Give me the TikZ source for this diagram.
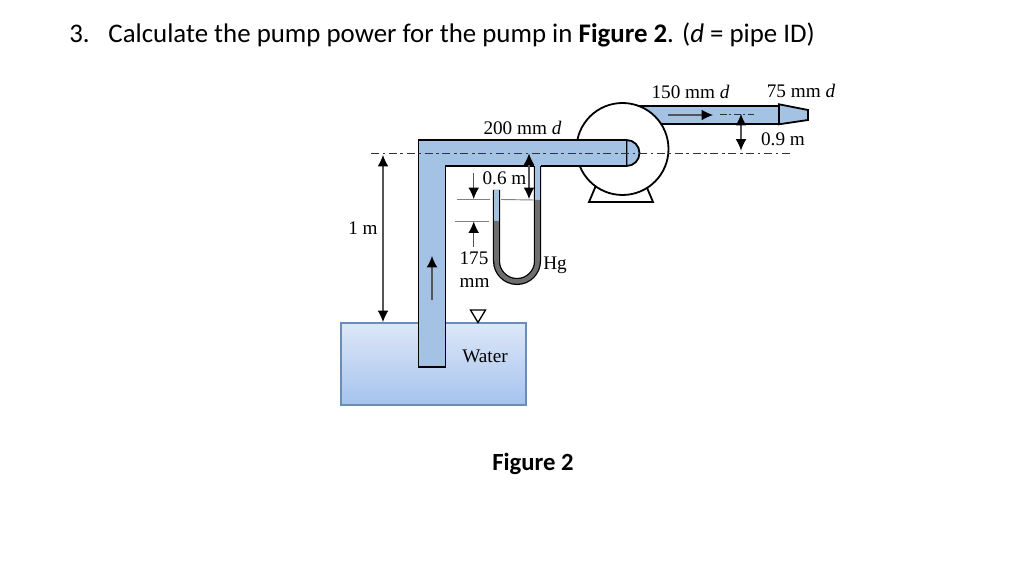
\documentclass[tikz,border=0pt]{standalone}
\usepackage{fontspec}
\setmainfont{Liberation Serif}
\newfontfamily\carl{Carlito}
\usetikzlibrary{arrows.meta}
\definecolor{pipeblue}{HTML}{A4C2E4}
\definecolor{tanktop}{HTML}{DDE7F8}
\definecolor{tankbot}{HTML}{A5C3ED}
\definecolor{tankedge}{HTML}{6A8DB8}
\definecolor{hgray}{HTML}{6E6E6E}
\definecolor{dimgray}{HTML}{555555}
\tikzset{
  pipe/.style={draw=black,line width=1.35pt,fill=pipeblue,line join=miter},
  pipeedge/.style={draw=black,line width=1.35pt,line join=miter},
  outline/.style={draw=black,line width=1.35pt,fill=white},
  dimline/.style={draw=dimgray,line width=0.8pt,{Latex[black,length=8.5pt,width=8pt]}-{Latex[black,length=8.5pt,width=8pt]}},
  onearrow/.style={draw=dimgray,line width=0.8pt,-{Latex[black,length=8.5pt,width=8pt]}},
  extline/.style={draw=gray,line width=0.7pt},
  centre/.style={draw=black!80,line width=1.2pt,dash pattern=on 6pt off 2.7pt on 2pt off 2.7pt},
  lab/.style={inner sep=0pt,font=\fontsize{14.4}{16}\selectfont},
  sans/.style={inner sep=0pt,font=\carl\fontsize{20.15}{22}\selectfont}
}
\begin{document}
\begin{tikzpicture}[x=0.75pt,y=-0.75pt]
\useasboundingbox[fill=white] (0,0) rectangle (1024,584);
% tank
\draw[draw=tankedge,line width=1.3pt,top color=tanktop,bottom color=tankbot] (341,323) rectangle (526,405);
% discharge pipe and nozzle
\draw[pipe] (630,106) -- (779,106) -- (779,124) -- (650,124) -- cycle;
\draw[pipe] (779,104.3) -- (808,110) -- (808,120) -- (779,124.3) -- cycle;
% pump
\draw[outline] (589,202) -- (653,202) -- (645,183) -- (597,183) -- cycle;
\draw[outline] (622.5,149) circle[radius=34.5pt];
% U tube
\draw[draw=black,line width=5.3pt] (496.5,190) -- (496.5,261) .. controls (496.5,272.3) and (505.7,281.5) .. (517,281.5) .. controls (528.3,281.5) and (537.5,272.3) .. (537.5,261) -- (537.5,160);
\draw[draw=pipeblue,line width=3.4pt] (496.5,190) -- (496.5,221);
\draw[draw=pipeblue,line width=3.4pt] (537.5,200) -- (537.5,160);
\draw[draw=hgray,line width=3.4pt] (496.5,221) -- (496.5,261) .. controls (496.5,272.3) and (505.7,281.5) .. (517,281.5) .. controls (528.3,281.5) and (537.5,272.3) .. (537.5,261) -- (537.5,200);
% suction pipe
\draw[pipe] (626.5,140) .. controls (633.7,140) and (639.5,145.8) .. (639.5,153) .. controls (639.5,160.2) and (633.7,166) .. (626.5,166) -- cycle;
\fill[pipeblue] (418.5,367) -- (418.5,140) -- (626.5,140) -- (626.5,166) -- (445.5,166) -- (445.5,367) -- cycle;
\draw[pipeedge] (418.5,367.6) -- (418.5,140) -- (626.5,140) -- (626.5,166) -- (541,166);
\draw[pipeedge] (534,166) -- (445.5,166) -- (445.5,367) -- (417.6,367);
\fill[pipeblue] (534.6,160) rectangle (540.4,168);
% centre lines
\draw[centre] (371,153.5) -- (793,153.5);
\draw[centre,line width=0.7pt,dash pattern=on 5pt off 2pt on 1.5pt off 2pt] (720,114.5) -- (754,114.5);
% named reference points
\coordinate (oneTop) at (383,155);
\coordinate (oneBot) at (383,322);
\coordinate (sixTop) at (529,153.5);
\coordinate (sixBot) at (529,199);
\coordinate (nineTop) at (741,114);
\coordinate (nineBot) at (741,150.5);
\coordinate (flowA) at (668,115);
\coordinate (flowB) at (713,115);
\coordinate (upA) at (432,300);
\coordinate (upB) at (432,256);
\coordinate (hTopA) at (473.7,173);
\coordinate (hTopB) at (473.7,199);
\coordinate (hBotA) at (473.7,247);
\coordinate (hBotB) at (473.7,221.5);
% dimensions
\draw[dimline] (oneTop) -- (oneBot);
\draw[dimline] (sixTop) -- (sixBot);
\draw[dimline] (nineTop) -- (nineBot);
\draw[onearrow] (flowA) -- (flowB);
\draw[onearrow] (upA) -- (upB);
\draw[onearrow] (hTopA) -- (hTopB);
\draw[onearrow] (hBotA) -- (hBotB);
\draw[extline] (457,199) -- (490,199);
\draw[extline] (501,199.5) -- (534,200);
\draw[extline] (455,221) -- (489,221);
% free surface mark
\draw[draw=black,line width=1pt,fill=white] (470.5,310) -- (485.5,310) -- (478,322.5) -- cycle;
% labels
\node[sans,anchor=west] (title) at (69,35) {3.\hspace{0.7em}Calculate the pump power for the pump in \textbf{Figure 2}. (\textit{d} = pipe ID)};
\node[sans,font=\carl\bfseries\fontsize{18.5}{22}\selectfont] (figlabel) at (533,464) {Figure 2};
\node[lab] (l200) at (522.5,128) {200 mm \textit{d}};
\node[lab] (l150) at (690.5,92) {150 mm \textit{d}};
\node[lab] (l75) at (801,91) {75 mm \textit{d}};
\node[lab] (l09) at (783,139.5) {0.9 m};
\node[lab] (l06) at (504.5,178) {0.6 m};
\node[lab] (l1) at (363,228) {1 m};
\node[lab] (l175) at (474,258.5) {175};
\node[lab] (lmm) at (474.5,283) {mm};
\node[lab] (lhg) at (555,265) {Hg};
\node[lab] (lwater) at (485,356) {Water};
\end{tikzpicture}
\end{document}
